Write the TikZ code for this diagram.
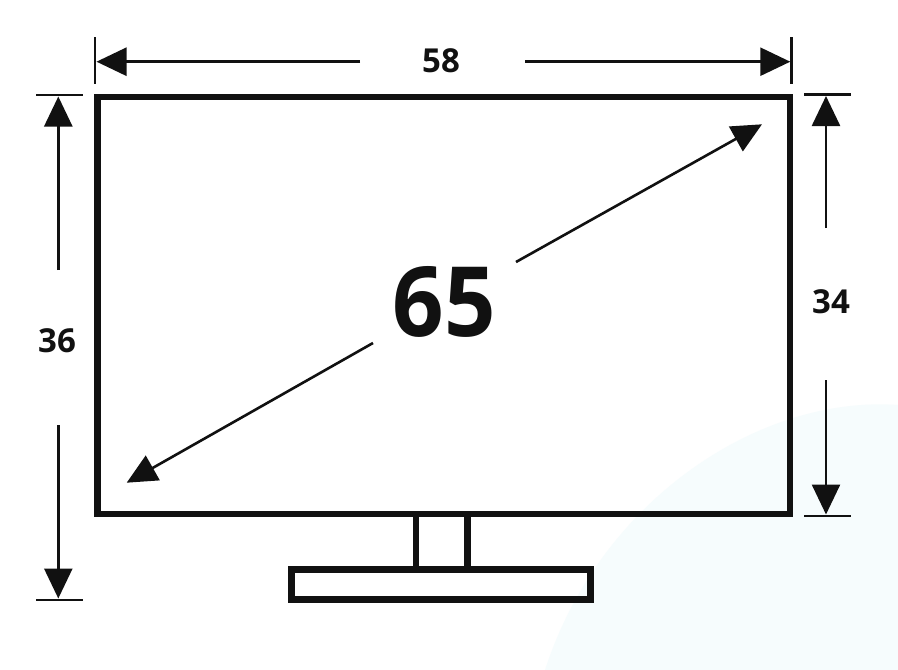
\documentclass[tikz,border=0pt]{standalone}
\usepackage{fontspec}
\setmainfont{Open Sans}
\newfontfamily\bigf[FakeStretch=0.93]{Open Sans}
\usetikzlibrary{arrows.meta}
\definecolor{wm}{RGB}{246,252,253}
\definecolor{ink}{RGB}{17,17,17}
\tikzset{
  frame/.style={draw=ink, line width=6.5pt, line join=miter},
  dimline/.style={draw=ink, line width=2.6pt, -{Triangle[length=30pt,width=28pt]}},
  tick/.style={draw=ink, line width=2.6pt},
  dimlabel/.style={font=\fontsize{33}{33}\selectfont\bfseries, text=ink, inner sep=0pt},
  biglabel/.style={font=\bigf\fontsize{97}{97}\selectfont\bfseries, text=ink, inner sep=0pt}
}
\begin{document}
\begin{tikzpicture}[x=1pt,y=-1pt]
\useasboundingbox (0,0) rectangle (898,670);
\fill[white] (0,0) rectangle (898,670);
% faint watermark
\fill[wm] (545,670) .. controls (600,500) and (760,395) .. (898,405) -- (898,670) -- cycle;
% coordinates
\coordinate (TL) at (97.5,97);
\coordinate (TR) at (790,97);
\coordinate (BR) at (790,514);
\coordinate (BL) at (97.5,514);
% screen
\draw[frame] (TL) rectangle (BR);
% stand neck
\coordinate (n1) at (416,514);
\coordinate (n2) at (416,569.7);
\coordinate (n3) at (467.5,514);
\coordinate (n4) at (467.5,569.7);
\draw[frame] (n1) -- (n2);
\draw[frame] (n3) -- (n4);
% base
\coordinate (b1) at (291.5,569.7);
\coordinate (b2) at (590.5,599.3);
\draw[frame] (b1) rectangle (b2);
% top dimension
\coordinate (tt1) at (95,37);
\coordinate (tt2) at (95,83.5);
\coordinate (tt3) at (791.7,37);
\coordinate (tt4) at (791.7,83.5);
\draw[tick] (tt1) -- (tt2);
\draw[tick] (tt3) -- (tt4);
\coordinate (tw1) at (360,61.7);
\coordinate (tw2) at (96.5,61.7);
\coordinate (tw3) at (525,61.7);
\coordinate (tw4) at (790.3,61.7);
\draw[dimline] (tw1) -- (tw2);
\draw[dimline] (tw3) -- (tw4);
\node[dimlabel] (w) at (441,61) {58};
% left dimension
\coordinate (lt1) at (36,95);
\coordinate (lt2) at (82.7,95);
\coordinate (lt3) at (36,600);
\coordinate (lt4) at (82.7,600);
\draw[tick] (lt1) -- (lt2);
\draw[tick] (lt3) -- (lt4);
\coordinate (lh1) at (58.3,270);
\coordinate (lh2) at (58.3,96.5);
\coordinate (lh3) at (58.3,425);
\coordinate (lh4) at (58.3,598.5);
\draw[dimline] (lh1) -- (lh2);
\draw[dimline] (lh3) -- (lh4);
\node[dimlabel] (h1) at (57,341) {36};
% right dimension
\coordinate (rt1) at (804,94.5);
\coordinate (rt2) at (850.7,94.5);
\coordinate (rt3) at (804,516);
\coordinate (rt4) at (850.7,516);
\draw[tick] (rt1) -- (rt2);
\draw[tick] (rt3) -- (rt4);
\coordinate (rh1) at (826,228);
\coordinate (rh2) at (826,96);
\coordinate (rh3) at (826,380);
\coordinate (rh4) at (826,514.5);
\draw[dimline] (rh1) -- (rh2);
\draw[dimline] (rh3) -- (rh4);
\node[dimlabel] (h2) at (831,301.5) {34};
% diagonal
\coordinate (d1) at (373,343);
\coordinate (d2) at (126.7,482.7);
\coordinate (d3) at (516,262);
\coordinate (d4) at (762,124.3);
\draw[dimline] (d1) -- (d2);
\draw[dimline] (d3) -- (d4);
\node[biglabel] (diag) at (444,301.5) {65};
\end{tikzpicture}
\end{document}
